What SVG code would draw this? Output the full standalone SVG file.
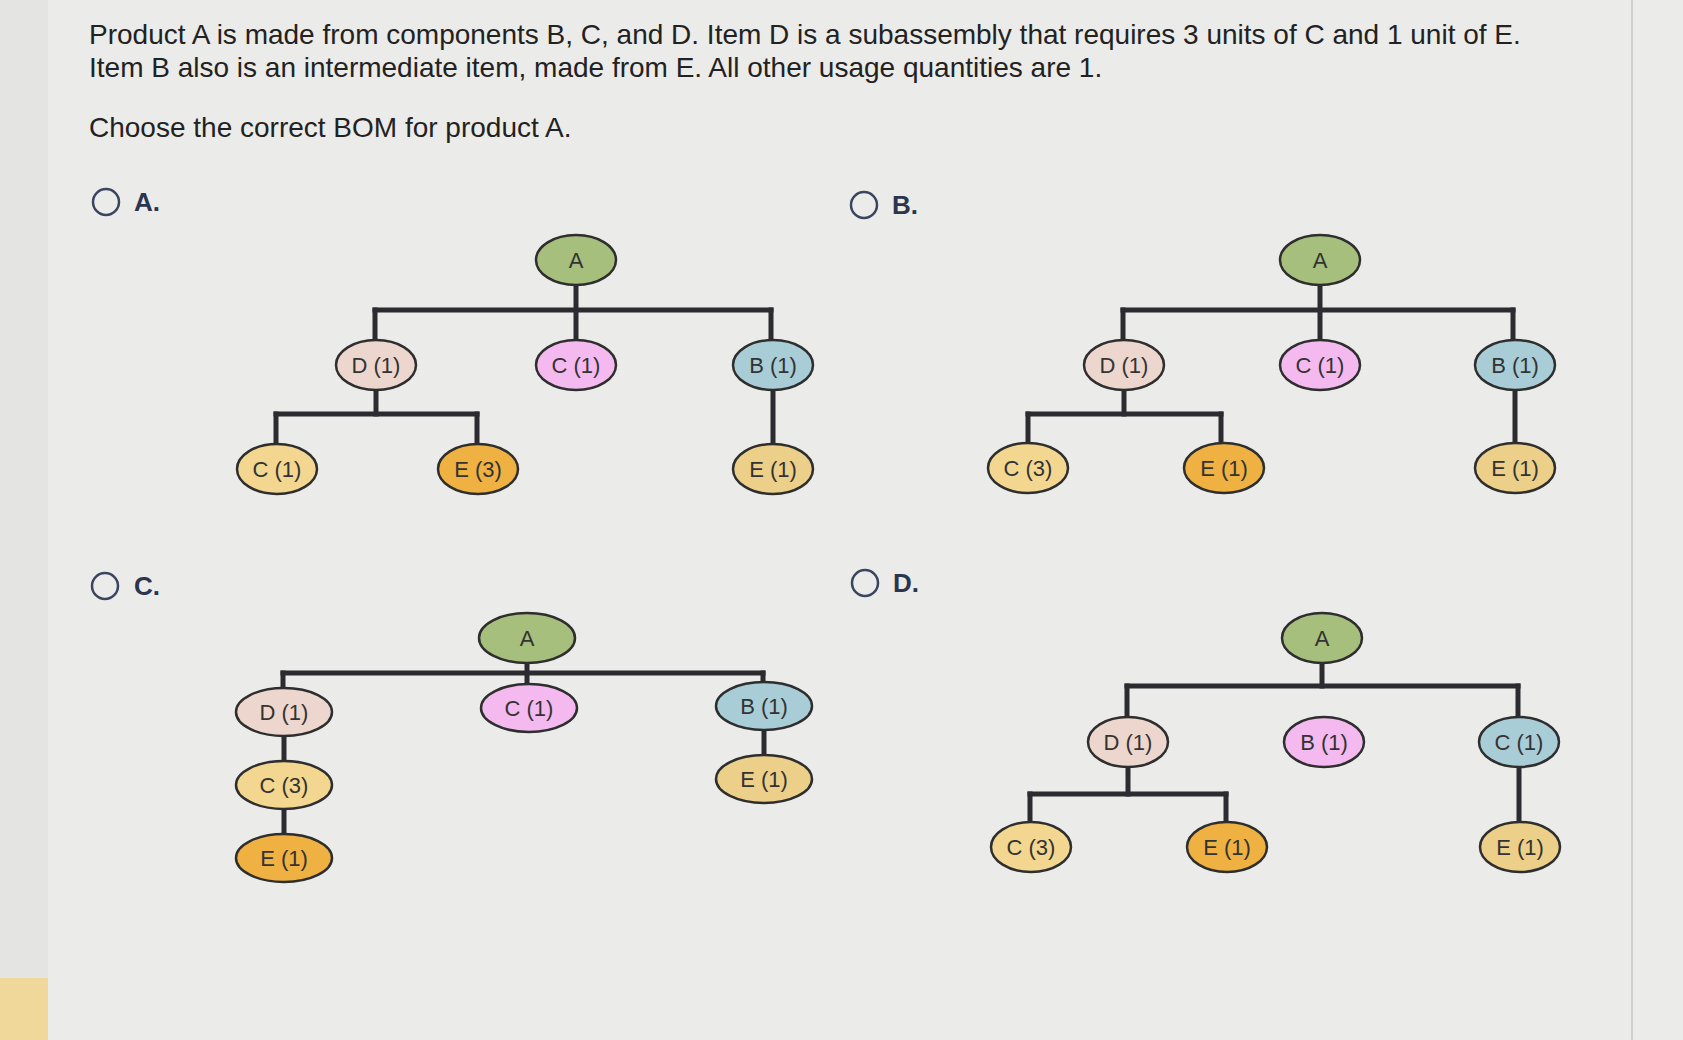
<svg xmlns="http://www.w3.org/2000/svg" width="1683" height="1040" viewBox="0 0 1683 1040">
<style>
.q{font-family:"Liberation Sans",Arial,sans-serif;font-size:28px;fill:#222}
.o{font-family:"Liberation Sans",Arial,sans-serif;font-size:26px;font-weight:bold;fill:#2a3550}
.n text{font-family:"Liberation Sans",Arial,sans-serif;font-size:22px;fill:#333;text-anchor:middle;dominant-baseline:central}
.n ellipse{stroke:#2e2e2e;stroke-width:2.5}
.r{fill:none;stroke:#3a4560;stroke-width:2.5}
.c line{stroke:#2b2b30;stroke-width:5;stroke-linecap:square}
</style>
<rect width="1683" height="1040" fill="#ebebe9"/>
<rect x="0" y="0" width="48" height="1040" fill="#e4e4e2"/>
<rect x="0" y="978" width="48" height="62" fill="#f0d79a"/>
<line x1="1632" y1="0" x2="1632" y2="1040" stroke="#d0d0ce" stroke-width="2"/>
<text class="q" x="89" y="44">Product A is made from components B, C, and D. Item D is a subassembly that requires 3 units of C and 1 unit of E.</text>
<text class="q" x="89" y="77">Item B also is an intermediate item, made from E. All other usage quantities are 1.</text>
<text class="q" x="89" y="137">Choose the correct BOM for product A.</text>
<circle class="r" cx="106" cy="202" r="13"/><text class="o" x="134" y="211">A.</text>
<circle class="r" cx="864" cy="205" r="13"/><text class="o" x="892" y="214">B.</text>
<circle class="r" cx="105" cy="586" r="13"/><text class="o" x="134" y="595">C.</text>
<circle class="r" cx="865" cy="583" r="13"/><text class="o" x="893" y="592">D.</text>
<g class="c">
<line x1="576" y1="285" x2="576" y2="340"/><line x1="375" y1="310" x2="771" y2="310"/>
<line x1="375" y1="310" x2="375" y2="340"/><line x1="771" y1="310" x2="771" y2="340"/>
<line x1="376" y1="390" x2="376" y2="414"/><line x1="276" y1="414" x2="477" y2="414"/>
<line x1="276" y1="414" x2="276" y2="444"/><line x1="477" y1="414" x2="477" y2="444"/>
<line x1="773" y1="390" x2="773" y2="444"/>
<line x1="1320" y1="285" x2="1320" y2="340"/><line x1="1123" y1="310" x2="1513" y2="310"/>
<line x1="1123" y1="310" x2="1123" y2="340"/><line x1="1513" y1="310" x2="1513" y2="340"/>
<line x1="1124" y1="390" x2="1124" y2="414"/><line x1="1028" y1="414" x2="1221" y2="414"/>
<line x1="1028" y1="414" x2="1028" y2="443"/><line x1="1221" y1="414" x2="1221" y2="443"/>
<line x1="1515" y1="390" x2="1515" y2="443"/>
<line x1="527" y1="663" x2="527" y2="684"/><line x1="283" y1="673" x2="763" y2="673"/>
<line x1="283" y1="673" x2="283" y2="688"/><line x1="763" y1="673" x2="763" y2="682"/>
<line x1="284" y1="736" x2="284" y2="761"/><line x1="284" y1="809" x2="284" y2="834"/>
<line x1="764" y1="730" x2="764" y2="755"/>
<line x1="1322" y1="663" x2="1322" y2="686"/><line x1="1127" y1="686" x2="1518" y2="686"/>
<line x1="1127" y1="686" x2="1127" y2="718"/><line x1="1518" y1="686" x2="1518" y2="718"/>
<line x1="1128" y1="766" x2="1128" y2="794"/><line x1="1030" y1="794" x2="1226" y2="794"/>
<line x1="1030" y1="794" x2="1030" y2="823"/><line x1="1226" y1="794" x2="1226" y2="823"/>
<line x1="1519" y1="766" x2="1519" y2="823"/>
</g>
<g class="n" id="a-A"><ellipse cx="576" cy="260" rx="40" ry="25" fill="#a6bf7c"/><text x="576" y="260">A</text></g>
<g class="n" id="a-D"><ellipse cx="376" cy="365" rx="40" ry="25" fill="#ecd6cd"/><text x="376" y="365">D (1)</text></g>
<g class="n" id="a-C"><ellipse cx="576" cy="365" rx="40" ry="25" fill="#f4baf0"/><text x="576" y="365">C (1)</text></g>
<g class="n" id="a-B"><ellipse cx="773" cy="365" rx="40" ry="25" fill="#a9cdd6"/><text x="773" y="365">B (1)</text></g>
<g class="n" id="a-C1"><ellipse cx="277" cy="469" rx="40" ry="25" fill="#f3d790"/><text x="277" y="469">C (1)</text></g>
<g class="n" id="a-E3"><ellipse cx="478" cy="469" rx="40" ry="25" fill="#eeb142"/><text x="478" y="469">E (3)</text></g>
<g class="n" id="a-E1"><ellipse cx="773" cy="469" rx="40" ry="25" fill="#ecd08a"/><text x="773" y="469">E (1)</text></g>
<g class="n" id="b-A"><ellipse cx="1320" cy="260" rx="40" ry="25" fill="#a6bf7c"/><text x="1320" y="260">A</text></g>
<g class="n" id="b-D"><ellipse cx="1124" cy="365" rx="40" ry="25" fill="#ecd6cd"/><text x="1124" y="365">D (1)</text></g>
<g class="n" id="b-C"><ellipse cx="1320" cy="365" rx="40" ry="25" fill="#f4baf0"/><text x="1320" y="365">C (1)</text></g>
<g class="n" id="b-B"><ellipse cx="1515" cy="365" rx="40" ry="25" fill="#a9cdd6"/><text x="1515" y="365">B (1)</text></g>
<g class="n" id="b-C3"><ellipse cx="1028" cy="468" rx="40" ry="25" fill="#f3d790"/><text x="1028" y="468">C (3)</text></g>
<g class="n" id="b-E1"><ellipse cx="1224" cy="468" rx="40" ry="25" fill="#eeb142"/><text x="1224" y="468">E (1)</text></g>
<g class="n" id="b-E1b"><ellipse cx="1515" cy="468" rx="40" ry="25" fill="#ecd08a"/><text x="1515" y="468">E (1)</text></g>
<g class="n" id="c-A"><ellipse cx="527" cy="638" rx="48" ry="25" fill="#a6bf7c"/><text x="527" y="638">A</text></g>
<g class="n" id="c-D"><ellipse cx="284" cy="712" rx="48" ry="24" fill="#ecd6cd"/><text x="284" y="712">D (1)</text></g>
<g class="n" id="c-C"><ellipse cx="529" cy="708" rx="48" ry="24" fill="#f4baf0"/><text x="529" y="708">C (1)</text></g>
<g class="n" id="c-B"><ellipse cx="764" cy="706" rx="48" ry="24" fill="#a9cdd6"/><text x="764" y="706">B (1)</text></g>
<g class="n" id="c-C3"><ellipse cx="284" cy="785" rx="48" ry="24" fill="#f3d790"/><text x="284" y="785">C (3)</text></g>
<g class="n" id="c-E1"><ellipse cx="284" cy="858" rx="48" ry="24" fill="#eeb142"/><text x="284" y="858">E (1)</text></g>
<g class="n" id="c-E1b"><ellipse cx="764" cy="779" rx="48" ry="24" fill="#ecd08a"/><text x="764" y="779">E (1)</text></g>
<g class="n" id="d-A"><ellipse cx="1322" cy="638" rx="40" ry="25" fill="#a6bf7c"/><text x="1322" y="638">A</text></g>
<g class="n" id="d-D"><ellipse cx="1128" cy="742" rx="40" ry="25" fill="#ecd6cd"/><text x="1128" y="742">D (1)</text></g>
<g class="n" id="d-B"><ellipse cx="1324" cy="742" rx="40" ry="25" fill="#f4baf0"/><text x="1324" y="742">B (1)</text></g>
<g class="n" id="d-C"><ellipse cx="1519" cy="742" rx="40" ry="25" fill="#a9cdd6"/><text x="1519" y="742">C (1)</text></g>
<g class="n" id="d-C3"><ellipse cx="1031" cy="847" rx="40" ry="25" fill="#f3d790"/><text x="1031" y="847">C (3)</text></g>
<g class="n" id="d-E1"><ellipse cx="1227" cy="847" rx="40" ry="25" fill="#eeb142"/><text x="1227" y="847">E (1)</text></g>
<g class="n" id="d-E1b"><ellipse cx="1520" cy="847" rx="40" ry="25" fill="#ecd08a"/><text x="1520" y="847">E (1)</text></g>
</svg>
